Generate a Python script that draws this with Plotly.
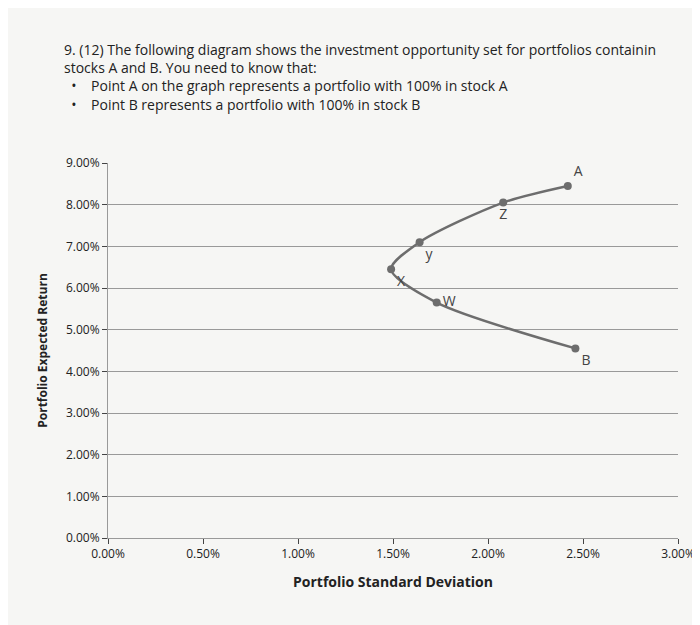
import plotly.graph_objects as go

# portfolio points
labels = ["A", "Z", "y", "X", "W", "B"]
std_dev = [2.42, 2.08, 1.64, 1.49, 1.73, 2.46]
exp_ret = [8.45, 8.05, 7.1, 6.45, 5.65, 4.55]
label_pos = ["top right", "bottom center", "bottom right", "bottom right", "middle right", "bottom right"]

x_ticks = [0, 0.5, 1, 1.5, 2, 2.5, 3]
y_ticks = [0, 1, 2, 3, 4, 5, 6, 7, 8, 9]

fig = go.Figure()
fig.add_trace(go.Scatter(
    x=std_dev, y=exp_ret, mode="lines+markers+text",
    line=dict(color="#6d6d6d", width=2.5, shape="spline", smoothing=0.8),
    marker=dict(color="#6d6d6d", size=8),
    text=labels, textposition=label_pos,
    textfont=dict(size=14, color="#444"),
))

fig.update_layout(
    width=700, height=625,
    paper_bgcolor="#f6f6f4", plot_bgcolor="#f6f6f4",
    margin=dict(l=100, r=30, t=155, b=95),
    showlegend=False,
    font=dict(family="Open Sans", color="#222"),
    xaxis=dict(range=[0, 3], tickvals=x_ticks,
               ticktext=[f"{v:.2f}%" for v in x_ticks],
               showgrid=False, showline=True, linecolor="#999", ticks="outside",
               tickfont=dict(size=12),
               title=dict(text="<b>Portfolio Standard Deviation</b>", font=dict(size=14))),
    yaxis=dict(range=[0, 9], tickvals=y_ticks,
               ticktext=[f"{v:.2f}%" for v in y_ticks],
               showgrid=True, gridcolor="#999", showline=True, linecolor="#999",
               ticks="outside", tickfont=dict(size=12),
               title=dict(text="<b>Portfolio Expected Return</b>", font=dict(size=12))),
)

fig.add_annotation(
    xref="paper", yref="paper", x=-0.08, y=1.0, yshift=125, xanchor="left", yanchor="top",
    align="left", showarrow=False, font=dict(size=14, color="#222"),
    text="9. (12) The following diagram shows the investment opportunity set for portfolios containin<br>"
         "stocks A and B. You need to know that:<br>"
         "  •    Point A on the graph represents a portfolio with 100% in stock A<br>"
         "  •    Point B represents a portfolio with 100% in stock B",
)

fig.write_html("out.html")
